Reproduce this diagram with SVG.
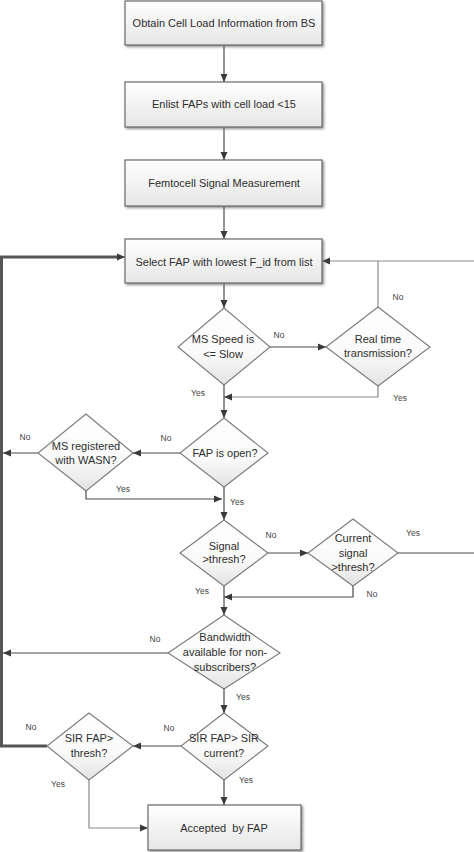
<svg xmlns="http://www.w3.org/2000/svg" width="474" height="852" viewBox="0 0 474 852">
<style>
.box{fill:url(#gb);stroke:#6a6a6a;stroke-width:1.2;filter:url(#sh)}
.dia{fill:url(#gd);stroke:#7a7a7a;stroke-width:1.1}
.t{font-family:"Liberation Sans",Arial,sans-serif;font-size:11px;fill:#2e2e2e;text-anchor:middle}
.l{font-family:"Liberation Sans",Arial,sans-serif;font-size:8.5px;fill:#444;text-anchor:middle}
.c{fill:none;stroke:#4a4a4a;stroke-width:1.2}
.c2{fill:none;stroke:#8a8a8a;stroke-width:1.2}
.loop{fill:none;stroke:#555;stroke-width:3}
</style>
<defs>
<linearGradient id="gb" x1="0" y1="0" x2="0" y2="1"><stop offset="0" stop-color="#ffffff"/><stop offset="1" stop-color="#e6e6e6"/></linearGradient>
<linearGradient id="gd" x1="0" y1="0" x2="0" y2="1"><stop offset="0" stop-color="#ffffff"/><stop offset="0.6" stop-color="#fafafa"/><stop offset="1" stop-color="#e2e2e2"/></linearGradient>
<filter id="sh" x="-10%" y="-10%" width="120%" height="130%"><feDropShadow dx="1.5" dy="1.5" stdDeviation="0.8" flood-color="#777" flood-opacity="0.8"/></filter>
<marker id="a" viewBox="0 0 8 8" refX="8" refY="4" markerWidth="8" markerHeight="8" markerUnits="userSpaceOnUse" orient="auto"><path d="M0,0.5 L8,4 L0,7.5 z" fill="#3a3a3a"/></marker>
</defs>
<g id="connectors">
<path class="c" d="M224,45 V82" marker-end="url(#a)"/>
<path class="c" d="M224,127 V160" marker-end="url(#a)"/>
<path class="c" d="M224,206 V239" marker-end="url(#a)"/>
<path class="loop" d="M47,746 H1.5 V257 H118"/>
<path class="c" d="M117,257 H125" marker-end="url(#a)"/>
<path class="c2" d="M474,261 H322" marker-end="url(#a)"/>
<path class="c2" d="M378,307 V261"/>
<path class="c" d="M224,283 V308" marker-end="url(#a)"/>
<path class="c" d="M270,347 H326" marker-end="url(#a)"/>
<path class="c2" d="M378,386 V397 H224" marker-end="url(#a)"/>
<path class="c" d="M224,385 V418" marker-end="url(#a)"/>
<path class="c" d="M180,453 H133" marker-end="url(#a)"/>
<path class="c" d="M38,453 H3" marker-end="url(#a)"/>
<path class="c" d="M86,491 V499 H222" marker-end="url(#a)"/>
<path class="c" d="M224,487 V520" marker-end="url(#a)"/>
<path class="c" d="M268,553 H308" marker-end="url(#a)"/>
<path class="c" d="M398,553 H474"/>
<path class="c" d="M353,586 V597 H224" marker-end="url(#a)"/>
<path class="c" d="M224,586 V615" marker-end="url(#a)"/>
<path class="c" d="M168,653 H3" marker-end="url(#a)"/>
<path class="c" d="M224,689 V713" marker-end="url(#a)"/>
<path class="c" d="M181,746 H133" marker-end="url(#a)"/>
<path class="c" d="M224,780 V805" marker-end="url(#a)"/>
<path class="c2" d="M89,780 V828 H148" marker-end="url(#a)"/>
<text class="l" x="279" y="338">No</text>
<text class="l" x="398" y="300">No</text>
<text class="l" x="198" y="396">Yes</text>
<text class="l" x="400" y="401">Yes</text>
<text class="l" x="166" y="441">No</text>
<text class="l" x="25" y="440">No</text>
<text class="l" x="123" y="492">Yes</text>
<text class="l" x="237" y="505">Yes</text>
<text class="l" x="271" y="538">No</text>
<text class="l" x="413" y="536">Yes</text>
<text class="l" x="202" y="594">Yes</text>
<text class="l" x="372" y="597">No</text>
<text class="l" x="155" y="642">No</text>
<text class="l" x="243" y="700">Yes</text>
<text class="l" x="169" y="731">No</text>
<text class="l" x="31" y="730">No</text>
<text class="l" x="246" y="783">Yes</text>
<text class="l" x="58" y="787">Yes</text>
</g>
<g id="n1"><rect class="box" x="125" y="1" width="197" height="44"/><text class="t" x="224" y="27">Obtain Cell Load Information from BS</text></g>
<g id="n2"><rect class="box" x="125" y="82" width="197" height="45"/><text class="t" x="224" y="108">Enlist FAPs with cell load &lt;15</text></g>
<g id="n3"><rect class="box" x="125" y="160" width="197" height="46"/><text class="t" x="224" y="187">Femtocell Signal Measurement</text></g>
<g id="n4"><rect class="box" x="125" y="239" width="197" height="44"/><text class="t" x="224" y="266">Select FAP with lowest F_id from list</text></g>
<g id="d1"><polygon class="dia" points="224,308 270,347 224,385 178,347"/><text class="t" x="223" y="343">MS Speed is</text><text class="t" x="223" y="358">&lt;= Slow</text></g>
<g id="d2"><polygon class="dia" points="378,307 430,347 378,386 326,347"/><text class="t" x="378" y="343">Real time</text><text class="t" x="378" y="357">transmission?</text></g>
<g id="d3"><polygon class="dia" points="224,418 268,453 224,487 180,453"/><text class="t" x="225" y="457">FAP is open?</text></g>
<g id="d4"><polygon class="dia" points="86,414 133,453 86,491 38,453"/><text class="t" x="86" y="450">MS registered</text><text class="t" x="86" y="464">with WASN?</text></g>
<g id="d5"><polygon class="dia" points="224,520 268,553 224,586 180,553"/><text class="t" x="224" y="550">Signal</text><text class="t" x="224" y="563">&gt;thresh?</text></g>
<g id="d6"><polygon class="dia" points="353,519 398,553 353,586 308,553"/><text class="t" x="353" y="542">Current</text><text class="t" x="353" y="557">signal</text><text class="t" x="353" y="571">&gt;thresh?</text></g>
<g id="d7"><polygon class="dia" points="224,615 280,653 224,689 168,653"/><text class="t" x="225" y="641">Bandwidth</text><text class="t" x="225" y="656">available for non-</text><text class="t" x="225" y="671">subscribers?</text></g>
<g id="d8"><polygon class="dia" points="224,713 268,746 224,780 181,746"/><text class="t" x="224" y="742">SIR FAP&gt; SIR</text><text class="t" x="224" y="757">current?</text></g>
<g id="d9"><polygon class="dia" points="89,713 133,746 89,780 47,746"/><text class="t" x="89" y="742">SIR FAP&gt;</text><text class="t" x="89" y="757">thresh?</text></g>
<g id="n5"><rect class="box" x="148" y="805" width="153" height="45"/><text class="t" x="224" y="832" style="white-space:pre">Accepted  by FAP</text></g>
</svg>
